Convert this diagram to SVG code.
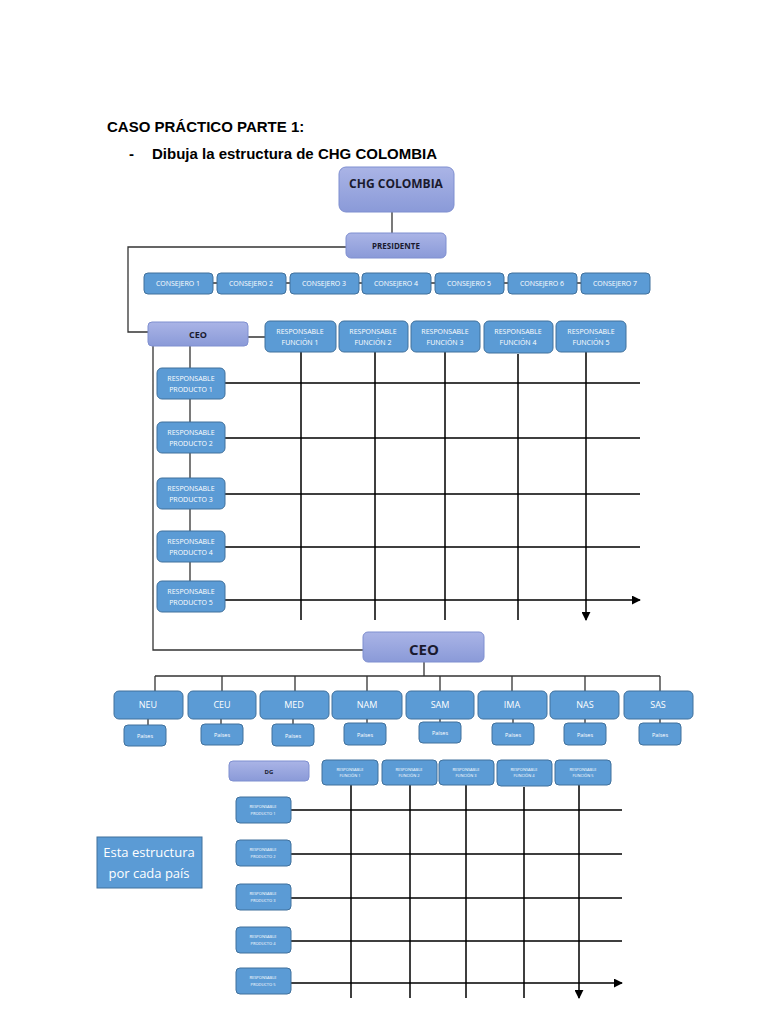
<svg xmlns="http://www.w3.org/2000/svg" width="768" height="1024" viewBox="0 0 768 1024">
<defs>
<linearGradient id="lav" x1="0" y1="0" x2="0" y2="1"><stop offset="0" stop-color="#aab4e6"/><stop offset="1" stop-color="#8a9ad8"/></linearGradient>
<marker id="ar" viewBox="0 0 10 10" refX="9" refY="5" markerWidth="6" markerHeight="6" orient="auto"><path d="M0,0L10,5L0,10z" fill="#000"/></marker>
<style>
.l{fill:url(#lav);stroke:#7f8fd0;stroke-width:1}
.b{fill:#5b9bd5;stroke:#41719c;stroke-width:1}
.t{font-family:"Open Sans","DejaVu Sans",sans-serif;text-anchor:middle;fill:#fff}
.d{font-family:"Open Sans","DejaVu Sans",sans-serif;text-anchor:middle;fill:#1a1a2e;font-weight:bold}
.c{stroke:#333;stroke-width:1.3;fill:none}
.a{stroke:#000;stroke-width:1.5;fill:none;marker-end:url(#ar)}
.h{font-family:"Liberation Sans",Arial,sans-serif;font-weight:bold;font-size:15px;fill:#000}
</style>
</defs>
<rect width="768" height="1024" fill="#fff"/>
<text class="h" x="107" y="132">CASO PRÁCTICO PARTE 1:</text>
<text class="h" x="129" y="159" font-weight="normal">-</text>
<text class="h" x="152" y="159">Dibuja la estructura de CHG COLOMBIA</text>

<g id="connectors">
<path class="c" d="M392,212V233M346,247H128V332H148M213,283H217M286,283H290M359,283H362M431,283H435M504,283H508M577,283H581M248,337H265"/>
<path class="c" d="M153,346V650H363M190,346V596M190,383H157M190,438H157M190,494H157M190,547H157M190,596H157"/>
<path class="a" d="M301,352V620M375,352V620M445,352V620M518,354V620M586,352V620"/>
<path class="a" d="M225,383H640M225,438H640M225,494H640M225,547H640M225,600H640"/>
<path class="c" d="M424,662V676M155,676H660M155,676V691M222,676V691M295,676V691M367,676V691M440,676V691M512,676V691M585,676V691M660,676V691"/>
<path class="c" d="M148,719V725M221,719V724M293,719V726M367,719V725M440,719V723M513,719V725M585,719V725M660,719V725"/>
<path class="a" d="M351,785V998M410,785V998M466,785V998M524,787V998M579,785V998"/>
<path class="a" d="M291,810H622M291,854H622M291,898H622M291,941H622M291,983H622"/>
</g>

<g id="chg"><rect class="l" x="339" y="167" width="115" height="45" rx="7"/><text class="d" x="396" y="188" font-size="12">CHG COLOMBIA</text></g>
<g id="presidente"><rect class="l" x="346" y="233" width="100" height="25" rx="5"/><text class="d" x="396" y="249" font-size="8">PRESIDENTE</text></g>
<g font-size="7">
<g id="c1"><rect class="b" x="144" y="273" width="69" height="21" rx="4"/><text class="t" x="178" y="286">CONSEJERO 1</text></g>
<g id="c2"><rect class="b" x="217" y="273" width="69" height="21" rx="4"/><text class="t" x="251" y="286">CONSEJERO 2</text></g>
<g id="c3"><rect class="b" x="290" y="273" width="69" height="21" rx="4"/><text class="t" x="324" y="286">CONSEJERO 3</text></g>
<g id="c4"><rect class="b" x="362" y="273" width="69" height="21" rx="4"/><text class="t" x="396" y="286">CONSEJERO 4</text></g>
<g id="c5"><rect class="b" x="435" y="273" width="69" height="21" rx="4"/><text class="t" x="469" y="286">CONSEJERO 5</text></g>
<g id="c6"><rect class="b" x="508" y="273" width="69" height="21" rx="4"/><text class="t" x="542" y="286">CONSEJERO 6</text></g>
<g id="c7"><rect class="b" x="581" y="273" width="69" height="21" rx="4"/><text class="t" x="615" y="286">CONSEJERO 7</text></g>
</g>
<g id="ceo1"><rect class="l" x="148" y="322" width="100" height="24" rx="4"/><text class="d" x="198" y="338" font-size="9">CEO</text></g>
<g font-size="7">
<g id="f1"><rect class="b" x="265" y="321" width="71" height="31" rx="5"/><text class="t" x="300" y="334">RESPONSABLE</text><text class="t" x="300" y="345">FUNCIÓN 1</text></g>
<g id="f2"><rect class="b" x="339" y="321" width="69" height="31" rx="5"/><text class="t" x="373" y="334">RESPONSABLE</text><text class="t" x="373" y="345">FUNCIÓN 2</text></g>
<g id="f3"><rect class="b" x="411" y="321" width="69" height="31" rx="5"/><text class="t" x="445" y="334">RESPONSABLE</text><text class="t" x="445" y="345">FUNCIÓN 3</text></g>
<g id="f4"><rect class="b" x="484" y="321" width="69" height="32" rx="5"/><text class="t" x="518" y="334">RESPONSABLE</text><text class="t" x="518" y="345">FUNCIÓN 4</text></g>
<g id="f5"><rect class="b" x="556" y="321" width="70" height="31" rx="5"/><text class="t" x="591" y="334">RESPONSABLE</text><text class="t" x="591" y="345">FUNCIÓN 5</text></g>
<g id="p1"><rect class="b" x="157" y="368" width="68" height="31" rx="5"/><text class="t" x="191" y="381">RESPONSABLE</text><text class="t" x="191" y="392">PRODUCTO 1</text></g>
<g id="p2"><rect class="b" x="157" y="422" width="68" height="31" rx="5"/><text class="t" x="191" y="435">RESPONSABLE</text><text class="t" x="191" y="446">PRODUCTO 2</text></g>
<g id="p3"><rect class="b" x="157" y="478" width="68" height="31" rx="5"/><text class="t" x="191" y="491">RESPONSABLE</text><text class="t" x="191" y="502">PRODUCTO 3</text></g>
<g id="p4"><rect class="b" x="157" y="531" width="68" height="31" rx="5"/><text class="t" x="191" y="544">RESPONSABLE</text><text class="t" x="191" y="555">PRODUCTO 4</text></g>
<g id="p5"><rect class="b" x="157" y="581" width="68" height="31" rx="5"/><text class="t" x="191" y="594">RESPONSABLE</text><text class="t" x="191" y="605">PRODUCTO 5</text></g>
</g>
<g id="ceo2"><rect class="l" x="363" y="632" width="121" height="30" rx="5"/><text class="d" x="424" y="655" font-size="15">CEO</text></g>
<g font-size="9">
<g id="neu"><rect class="b" x="114" y="691" width="69" height="28" rx="5"/><text class="t" x="148" y="708">NEU</text></g>
<g id="ceu"><rect class="b" x="188" y="691" width="68" height="28" rx="5"/><text class="t" x="222" y="708">CEU</text></g>
<g id="med"><rect class="b" x="260" y="691" width="69" height="28" rx="5"/><text class="t" x="294" y="708">MED</text></g>
<g id="nam"><rect class="b" x="332" y="691" width="70" height="28" rx="5"/><text class="t" x="367" y="708">NAM</text></g>
<g id="sam"><rect class="b" x="406" y="691" width="68" height="28" rx="5"/><text class="t" x="440" y="708">SAM</text></g>
<g id="ima"><rect class="b" x="478" y="691" width="69" height="28" rx="5"/><text class="t" x="512" y="708">IMA</text></g>
<g id="nas"><rect class="b" x="550" y="691" width="69" height="28" rx="5"/><text class="t" x="585" y="708">NAS</text></g>
<g id="sas"><rect class="b" x="624" y="691" width="69" height="28" rx="5"/><text class="t" x="658" y="708">SAS</text></g>
</g>
<g font-size="5.5">
<g id="pa1"><rect class="b" x="124" y="725" width="42" height="21" rx="4"/><text class="t" x="145" y="738">Países</text></g>
<g id="pa2"><rect class="b" x="201" y="724" width="42" height="21" rx="4"/><text class="t" x="222" y="737">Países</text></g>
<g id="pa3"><rect class="b" x="272" y="724" width="42" height="22" rx="4"/><text class="t" x="293" y="738">Países</text></g>
<g id="pa4"><rect class="b" x="344" y="723" width="42" height="22" rx="4"/><text class="t" x="365" y="737">Países</text></g>
<g id="pa5"><rect class="b" x="419" y="722" width="42" height="21" rx="4"/><text class="t" x="440" y="735">Países</text></g>
<g id="pa6"><rect class="b" x="492" y="723" width="42" height="22" rx="4"/><text class="t" x="513" y="737">Países</text></g>
<g id="pa7"><rect class="b" x="564" y="723" width="42" height="22" rx="4"/><text class="t" x="585" y="737">Países</text></g>
<g id="pa8"><rect class="b" x="639" y="723" width="42" height="22" rx="4"/><text class="t" x="660" y="737">Países</text></g>
</g>
<g id="dg"><rect class="l" x="229" y="761" width="80" height="20" rx="4"/><text class="d" x="269" y="774" font-size="6">DG</text></g>
<g font-size="4">
<g id="sf1"><rect class="b" x="322" y="760" width="56" height="25" rx="4"/><text class="t" x="350" y="771">RESPONSABLE</text><text class="t" x="350" y="777">FUNCIÓN 1</text></g>
<g id="sf2"><rect class="b" x="382" y="760" width="55" height="25" rx="4"/><text class="t" x="409" y="771">RESPONSABLE</text><text class="t" x="409" y="777">FUNCIÓN 2</text></g>
<g id="sf3"><rect class="b" x="439" y="760" width="55" height="25" rx="4"/><text class="t" x="466" y="771">RESPONSABLE</text><text class="t" x="466" y="777">FUNCIÓN 3</text></g>
<g id="sf4"><rect class="b" x="497" y="760" width="55" height="26" rx="4"/><text class="t" x="524" y="771">RESPONSABLE</text><text class="t" x="524" y="777">FUNCIÓN 4</text></g>
<g id="sf5"><rect class="b" x="555" y="760" width="56" height="25" rx="4"/><text class="t" x="583" y="771">RESPONSABLE</text><text class="t" x="583" y="777">FUNCIÓN 5</text></g>
<g id="sp1"><rect class="b" x="236" y="797" width="55" height="26" rx="4"/><text class="t" x="263" y="808">RESPONSABLE</text><text class="t" x="263" y="815">PRODUCTO 1</text></g>
<g id="sp2"><rect class="b" x="236" y="840" width="55" height="26" rx="4"/><text class="t" x="263" y="851">RESPONSABLE</text><text class="t" x="263" y="858">PRODUCTO 2</text></g>
<g id="sp3"><rect class="b" x="236" y="884" width="55" height="26" rx="4"/><text class="t" x="263" y="895">RESPONSABLE</text><text class="t" x="263" y="902">PRODUCTO 3</text></g>
<g id="sp4"><rect class="b" x="236" y="927" width="55" height="26" rx="4"/><text class="t" x="263" y="938">RESPONSABLE</text><text class="t" x="263" y="945">PRODUCTO 4</text></g>
<g id="sp5"><rect class="b" x="236" y="968" width="55" height="26" rx="4"/><text class="t" x="263" y="979">RESPONSABLE</text><text class="t" x="263" y="986">PRODUCTO 5</text></g>
</g>
<g id="nota"><rect x="97" y="837" width="105" height="51" fill="#5b9bd5" stroke="#41719c"/><text class="t" x="149" y="857" font-size="13">Esta estructura</text><text class="t" x="149" y="878" font-size="13">por cada país</text></g>
</svg>
